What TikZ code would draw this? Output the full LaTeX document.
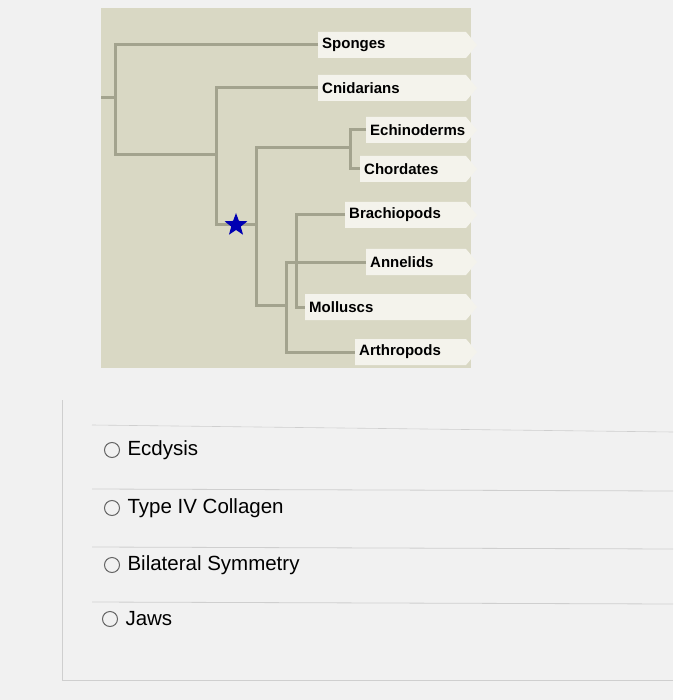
\documentclass[tikz,border=0pt]{standalone}
\usepackage{fontspec}
\setmainfont{Liberation Sans}
\usetikzlibrary{shapes.geometric}
\definecolor{panel}{HTML}{D9D8C4}
\definecolor{branch}{HTML}{A3A38E}
\definecolor{bg}{HTML}{F1F1F1}
\definecolor{rule}{HTML}{CFCFCF}
\definecolor{boxc}{HTML}{F4F3EC}
\newcommand{\labbox}[2]{\fill[boxc] (#1,#2-13) -- (466,#2-13) -- (477,#2) -- (466,#2+13) -- (#1,#2+13) -- cycle;}
\begin{document}
\begin{tikzpicture}[x=1pt,y=-1pt,
  br/.style={draw=branch,line width=3pt,line join=miter},
  lab/.style={font=\bfseries\fontsize{15}{18}\selectfont,anchor=west,inner sep=4pt},
  opt/.style={font=\fontsize{20.5}{24}\selectfont,anchor=west},
  radio/.style={circle,draw=black!60,line width=1pt,minimum size=15pt,inner sep=0pt}]
\fill[bg] (0,0) rectangle (673,700);
\useasboundingbox (0,0) rectangle (673,700);
\fill[panel] (101,8) rectangle (471,368);
\labbox{318}{45}\labbox{318}{88}\labbox{366}{130}\labbox{360}{169}
\labbox{345}{215}\labbox{366}{262}\labbox{305}{307}\labbox{355}{352}
\node[lab] (sp) at (318,45) {Sponges};
\node[lab] (cn) at (318,88) {Cnidarians};
\node[lab] (ec) at (366,130) {Echinoderms};
\node[lab] (ch) at (360,169) {Chordates};
\node[lab] (bp) at (345,215) {Brachiopods};
\node[lab] (an) at (366,262) {Annelids};
\node[lab] (mo) at (305,307) {Molluscs};
\node[lab] (ar) at (355,352) {Arthropods};
% branches
\coordinate (root) at (101,98);
\draw[br] (root) -- (115,98);
\draw[br] (sp.west) -- (115,45) -- (115,155) -- (216,155);
\draw[br] (cn.west) -- (216,88) -- (216,225) -- (256,225);
\draw[br] (ec.west) -- (350,130) -- (350,169) -- (ch.west);
\draw[br] (350,148) -- (256,148) -- (256,305) -- (286,305);
\draw[br] (an.west) -- (286,262) -- (286,352) -- (ar.west);
\draw[br] (bp.west) -- (296,215) -- (296,307) -- (mo.west);
\node[star,star points=5,star point ratio=2.4,fill=blue!70!black,minimum size=24pt,inner sep=0pt] (st) at (236,225) {};
% question area
\draw[rule,line width=0.6pt] (92,425) -- (673,432);
\draw[rule,line width=0.8pt] (92,489) -- (673,491);
\draw[rule,line width=0.8pt] (92,547) -- (673,549);
\draw[rule,line width=0.8pt] (92,602) -- (673,604);
\draw[rule,line width=0.8pt] (62,400) -- (62,680) -- (673,680);
\node[radio] (r1) at (112,450) {};
\node[opt] (o1) at (124,450) {Ecdysis};
\node[radio] (r2) at (112,508) {};
\node[opt] (o2) at (124,508) {Type IV Collagen};
\node[radio] (r3) at (112,565) {};
\node[opt] (o3) at (124,565) {Bilateral Symmetry};
\node[radio] (r4) at (110,619) {};
\node[opt] (o4) at (122,619) {Jaws};
\end{tikzpicture}
\end{document}
